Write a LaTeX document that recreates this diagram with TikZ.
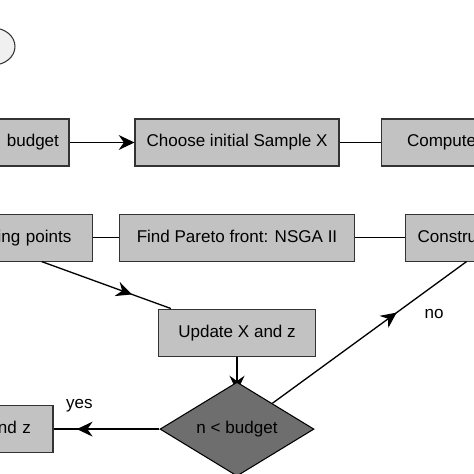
\documentclass[tikz,border=0pt]{standalone}
\usepackage{fontspec}
\setmainfont{Liberation Sans}
\usetikzlibrary{positioning,shapes.geometric,arrows.meta,decorations.markings,backgrounds}

\definecolor{boxgray}{HTML}{C2C2C2}
\definecolor{decgray}{HTML}{6E6E6E}
\definecolor{termgray}{HTML}{F0F0F0}
\definecolor{edgegray}{HTML}{333333}

\begin{document}
\begin{tikzpicture}[
	x=0.02cm, y=0.02cm,
	font=\fontsize{9.7}{11.6}\selectfont,
	box/.style={
		rectangle,draw=edgegray,fill=boxgray,
		line width=0.6pt,
		text height=0.72em,text depth=0.21em,
		minimum height=0.94cm,
	},
	decision/.style={
		diamond,draw=black,fill=decgray,
		line width=0.6pt,
		inner sep=0pt,
		aspect=1.64,
		minimum width=3.08cm,
		minimum height=1.88cm,
	},
	term/.style={
		ellipse,draw=edgegray,fill=termgray,
		line width=0.6pt,
		minimum width=0.88cm,
		minimum height=0.74cm,
	},
	conn/.style={line width=0.75pt},
	arr/.style={conn,-{Stealth[length=9pt,width=8.5pt,inset=3pt]}},
	midarrow/.style={conn,postaction={decorate},
		decoration={markings,
			mark=at position #1 with {\arrow{Stealth[length=9pt,width=8.5pt,inset=3pt]}}}},
]

\useasboundingbox (0,0) rectangle (474,-474);
\clip (0,0) rectangle (474,-474);

% Start terminal
\node[term] (start) at (-7,-46.5) {};

% First row
\node[box,minimum width=4.08cm] (init) at (237,-142.5) {Choose initial Sample X};
\node[box,left=1.3cm of init,
	text width=3cm,inner xsep=0.2cm,align=right] (bud) {l budget};
\node[box,right=0.82cm of init,
	text width=2.72cm,inner xsep=0.52cm,align=left] (comp) {Compute};

% Second row
\node[box,below=0.94cm of init,minimum width=4.7cm] (pf) {Find Pareto front: NSGA II};
\node[box,left=0.52cm of pf,
	text width=3.84cm,inner xsep=0.42cm,align=right] (sel) {ing points};
\node[box,right=1cm of pf,
	text width=3.28cm,inner xsep=0.24cm,align=left] (sur) {Constru};

% Update and budget check
\node[box,below=0.94cm of pf,minimum width=3.14cm] (upd) {Update X and z};
\node[decision,below=0.5cm of upd] (chk) {n < budget};
\node[box,left=2.12cm of chk,
	text width=3.12cm,inner xsep=0.44cm,align=right] (out) {nd z};

% Connections
\draw[arr] (bud) -- (init);
\draw[conn] (init) -- (comp);
\draw[conn] (sel) -- (pf);
\draw[conn] (pf) -- (sur);
\draw[midarrow=0.7] (sel) -- (upd);
\draw[midarrow=0.64] (chk) -- (sur) node[pos=0.63,right=0.47cm] {no};
\draw[midarrow=0.78] (chk) -- (out) node[pos=0.755,above=0.22cm] {yes};
\begin{scope}[on background layer]
	\draw[arr] (upd) -- ([yshift=-0.2cm]chk.north);
\end{scope}

\end{tikzpicture}
\end{document}
